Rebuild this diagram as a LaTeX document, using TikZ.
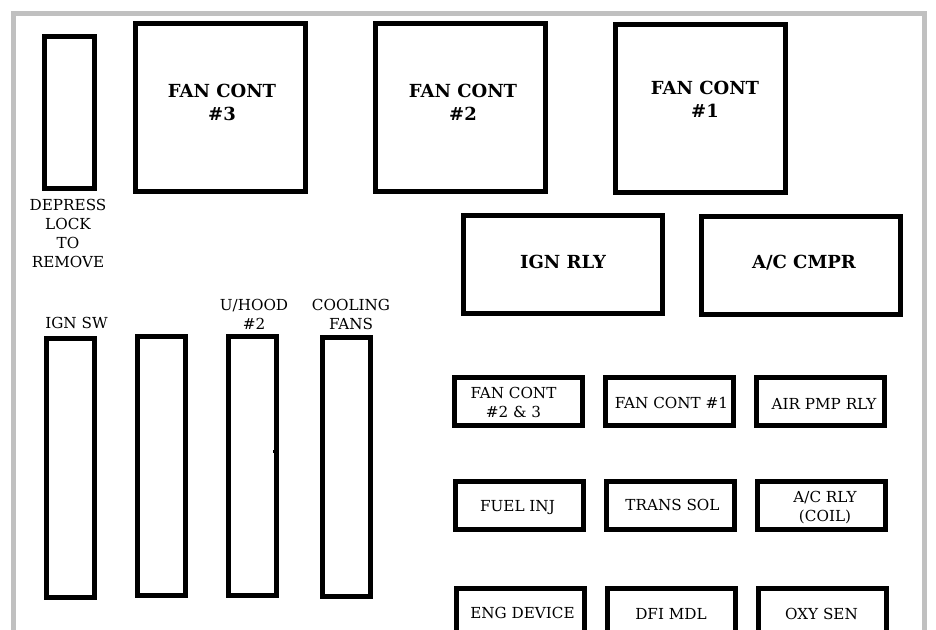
\documentclass[tikz,border=0pt]{standalone}
\usepackage{fontspec}
\setmainfont{DejaVu Serif}
\usetikzlibrary{positioning}

\begin{document}
\begin{tikzpicture}[
    x=0.75pt, y=-0.75pt,
    fusebox/.style={draw=black, line width=3.75pt, fill=white, inner sep=0pt},
    fanbox/.style={fusebox, minimum width=127.5pt, minimum height=126pt},
    relaybox/.style={fusebox, minimum width=149.25pt, minimum height=73.5pt},
    tallbox/.style={fusebox, minimum width=36pt, minimum height=194.25pt},
    lockbox/.style={fusebox, minimum width=37.5pt, minimum height=114pt},
    smallbox/.style={fusebox, minimum width=96pt, minimum height=36pt},
    txt/.style={inner sep=0pt, align=center, font=\fontsize{11.4}{14.25}\selectfont},
    boldtxt/.style={inner sep=0pt, align=center, font=\fontsize{13.5}{17.25}\selectfont\bfseries}
]
    % Frame
    \clip (0,0) rectangle (936,630);
    \draw[line width=3.75pt, color={rgb,255:red,192;green,192;blue,192}] (13.5,660) -- (13.5,13.5) -- (924.5,13.5) -- (924.5,660);

    % Boxes
    \node[lockbox] (lock) at (69.5,112.5) {};
    \node[fanbox] (fan3) at (220.5,107.5) {};
    \node[fanbox] (fan2) at (460,108) {};
    \node[fanbox] (fan1) at (700.5,109) {};
    \node[relaybox] (ignrly) at (563,264.5) {};
    \node[relaybox] (accmpr) at (801,265.5) {};
    \node[tallbox] (ignsw) at (70.5,468) {};
    \node[tallbox] (spare) at (161.5,466) {};
    \node[tallbox] (uhood) at (252.5,466) {};
    \node[tallbox] (cooling) at (346.5,467) {};
    \node[smallbox] (fan23) at (518.5,401.5) {};
    \node[smallbox] (fanone) at (669.5,401.5) {};
    \node[smallbox] (airpmp) at (820.5,401.5) {};
    \node[smallbox] (fuelinj) at (519.5,505.5) {};
    \node[smallbox] (transsol) at (670.5,505.5) {};
    \node[smallbox] (acrly) at (821.5,505.5) {};
    \node[smallbox] (engdev) at (520.5,612.5) {};
    \node[smallbox] (dfimdl) at (671.5,612.5) {};
    \node[smallbox] (oxysen) at (822.5,612.5) {};

    % Nick on the U/HOOD box
    \fill (273,450) rectangle (275,453);

    % Labels
    \node[boldtxt] (fan3txt) at (222,102) {FAN CONT\\\#3};
    \node[boldtxt] (fan2txt) at (463,102) {FAN CONT\\\#2};
    \node[boldtxt] (fan1txt) at (705,99) {FAN CONT\\\#1};
    \node[boldtxt] (ignrlytxt) at (563,262) {IGN RLY};
    \node[boldtxt] (accmprtxt) at (804,262.5) {A/C CMPR};
    \node[txt] (locktxt) at (68,233) {DEPRESS\\LOCK\\TO\\REMOVE};
    \node[txt] (ignswtxt) at (76.5,323) {IGN SW};
    \node[txt] (uhoodtxt) at (254,314) {U/HOOD\\\#2};
    \node[txt] (coolingtxt) at (351,314) {COOLING\\FANS};
    \node[txt] (fan23txt) at (513.5,402) {FAN CONT\\\#2 \& 3};
    \node[txt] (fanonetxt) at (671.5,402.5) {FAN CONT \#1};
    \node[txt] (airpmptxt) at (824,404) {AIR PMP RLY};
    \node[txt] (fuelinjtxt) at (517.5,507.5) {FUEL INJ};
    \node[txt] (transsoltxt) at (672.5,505) {TRANS SOL};
    \node[txt] (acrlytxt) at (825,508) {A/C RLY\\(COIL)};
    \node[txt] (engdevtxt) at (522.5,612.5) {ENG DEVICE};
    \node[txt] (dfimdltxt) at (671,613.5) {DFI MDL};
    \node[txt] (oxysentxt) at (821.5,613.5) {OXY SEN};
\end{tikzpicture}
\end{document}
